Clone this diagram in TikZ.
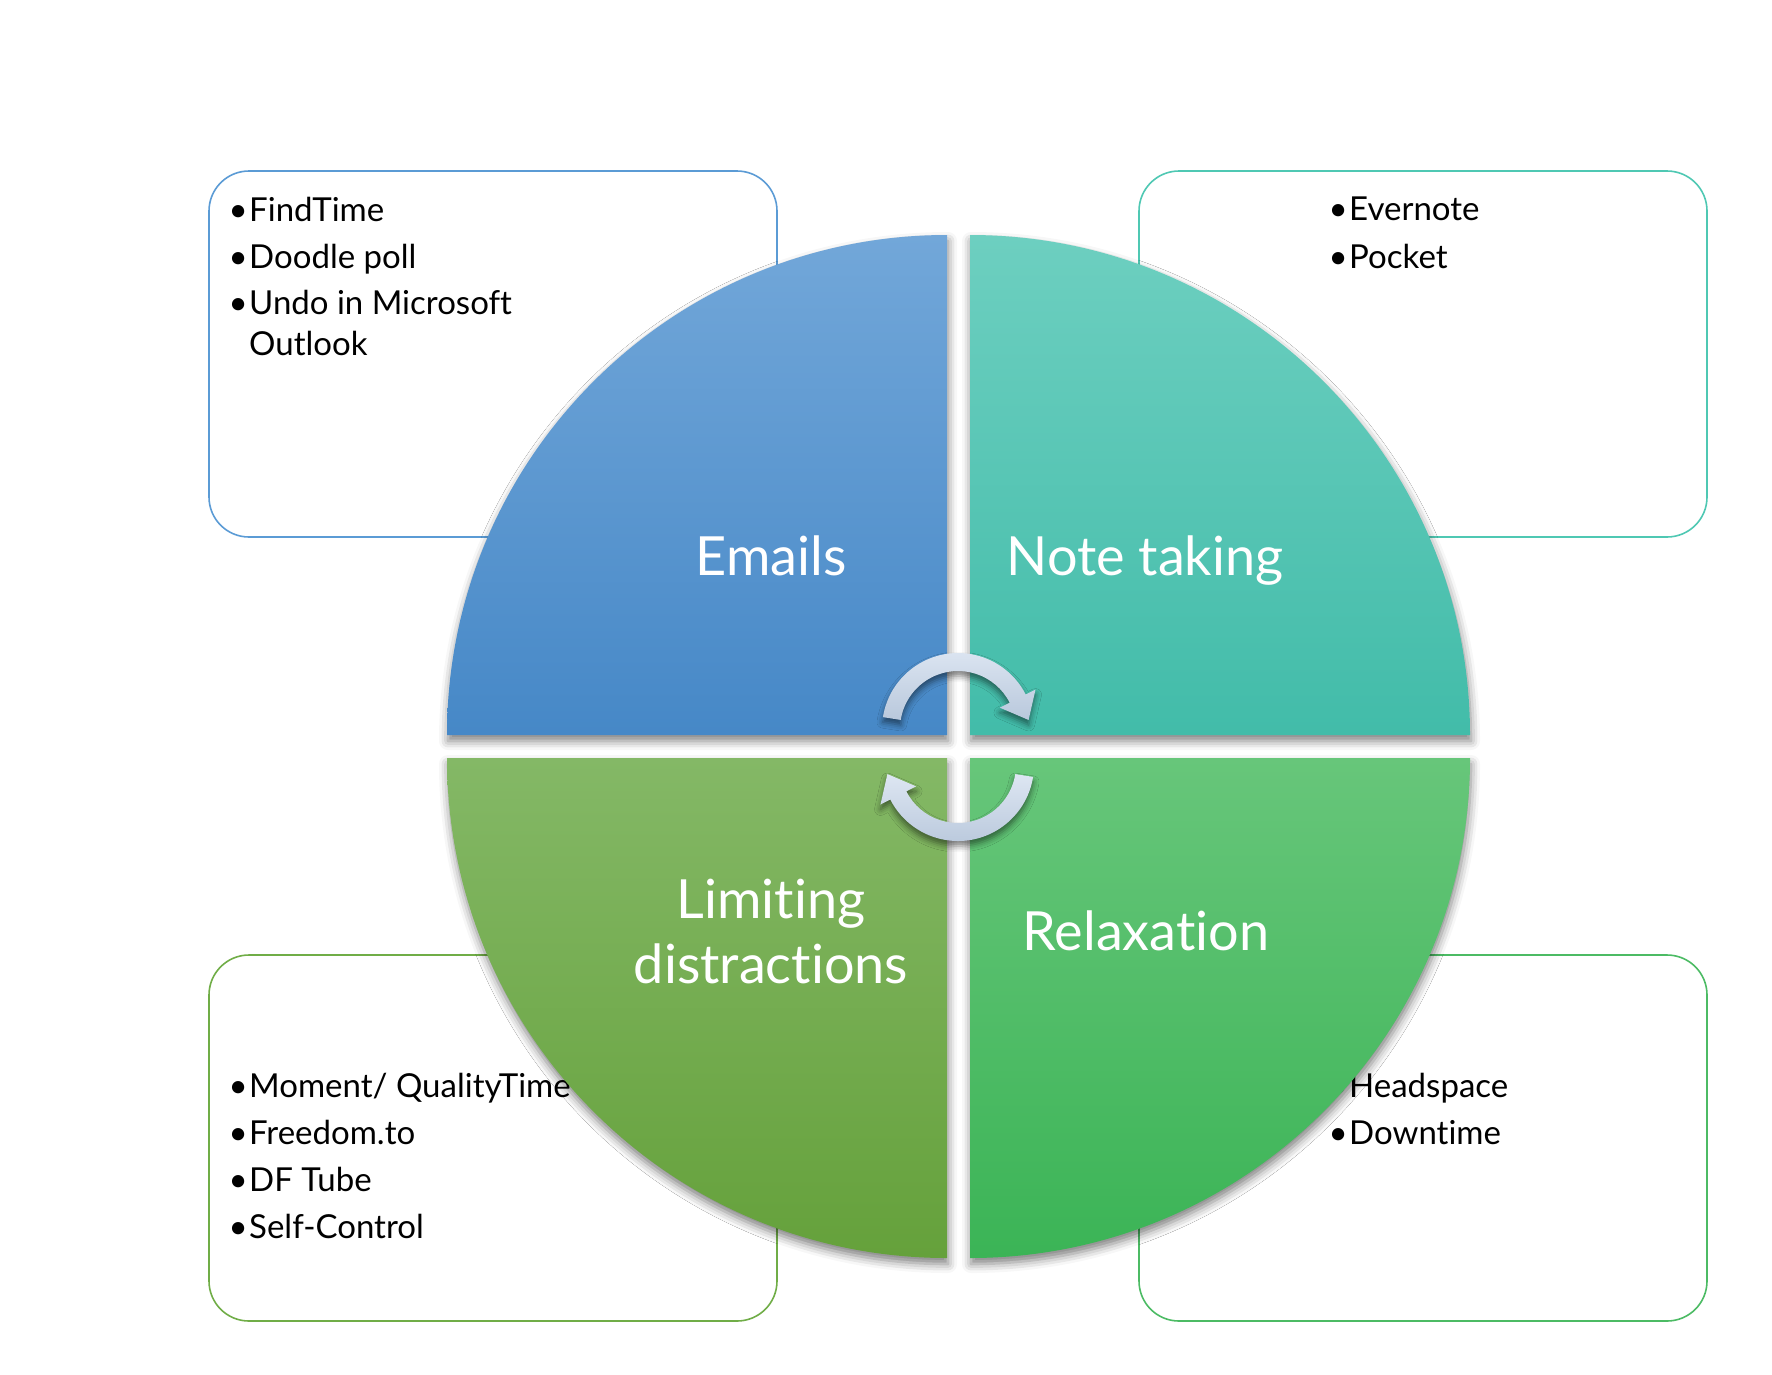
\documentclass[tikz,border=0pt]{standalone}
\usepackage{fontspec}
\setmainfont{Lato}[Ligatures={NoCommon,NoRare,NoContextual}]
\usetikzlibrary{calc,shadows.blur}
\definecolor{qTLtop}{HTML}{72A7D9}
\definecolor{qTLbot}{HTML}{4688C7}
\definecolor{qTRtop}{HTML}{6DCFC0}
\definecolor{qTRbot}{HTML}{42BCA9}
\definecolor{qBLtop}{HTML}{84B866}
\definecolor{qBLbot}{HTML}{65A13B}
\definecolor{qBRtop}{HTML}{67C67A}
\definecolor{qBRbot}{HTML}{3BB456}
\definecolor{bTL}{HTML}{5B9BD5}
\definecolor{bTR}{HTML}{4FC8B3}
\definecolor{bBL}{HTML}{70AD47}
\definecolor{bBR}{HTML}{4CBB64}
\definecolor{arTop}{HTML}{DDE6F2}
\definecolor{arBot}{HTML}{B9C8DC}
\newcommand{\itm}[1]{\makebox[0pt][r]{•\hspace{1.5pt}}#1}
\tikzset{
  infobox/.style={draw=#1, line width=1.6pt, rounded corners=40pt, fill=white,
    minimum width=568pt, minimum height=366pt, inner sep=0pt},
  itemtext/.style={anchor=base west, inner sep=0pt, text=black,
    font=\fontsize{33}{40}\selectfont},
  label/.style={anchor=base, inner sep=0pt, text=white,
    font=\fontsize{54}{65}\selectfont},
  quad/.style={blur shadow={shadow xshift=1pt, shadow yshift=-6pt,
    shadow blur radius=9pt, shadow opacity=50}},
  cyc/.style={top color=arTop, bottom color=arBot,
    blur shadow={shadow xshift=0pt, shadow yshift=-5pt,
    shadow blur radius=6pt, shadow opacity=50}}
}
\begin{document}
\begin{tikzpicture}[x=1pt,y=-1pt]
\useasboundingbox (0,0) rectangle (1772,1374);
% boxes
\node (boxTL) [infobox=bTL] at (493,354) {};
\node (boxTR) [infobox=bTR] at (1423,354) {};
\node (boxBL) [infobox=bBL] at (493,1138) {};
\node (boxBR) [infobox=bBR] at (1423,1138) {};
% box texts
\node (t1) [itemtext] at (249,221) {\itm{FindTime}};
\node (t2) [itemtext] at (249,268) {\itm{Doodle poll}};
\node (t3) [itemtext] at (249,314) {\itm{Undo in Microsoft}};
\node (t3b) [itemtext] at (249,355) {Outlook};
\node (t4) [itemtext] at (1349,220) {\itm{Evernote}};
\node (t5) [itemtext] at (1349,268) {\itm{Pocket}};
\node (t6) [itemtext] at (249,1097) {\itm{Moment/ QualityTime}};
\node (t7) [itemtext] at (249,1144) {\itm{Freedom.to}};
\node (t8) [itemtext] at (249,1191) {\itm{DF Tube}};
\node (t9) [itemtext] at (249,1238) {\itm{Self-Control}};
\node (t10) [itemtext] at (1349,1097) {\itm{Headspace}};
\node (t11) [itemtext] at (1349,1144) {\itm{Downtime}};
% quadrants
\path[quad, top color=qTLtop, bottom color=qTLbot]
  (947,735) -- (447,735) arc[start angle=180, end angle=270, radius=500] -- cycle;
\path[quad, top color=qTRtop, bottom color=qTRbot]
  (970,735) -- (970,235) arc[start angle=270, end angle=360, radius=500] -- cycle;
\path[quad, top color=qBLtop, bottom color=qBLbot]
  (947,758) -- (447,758) arc[start angle=180, end angle=90, radius=500] -- cycle;
\path[quad, top color=qBRtop, bottom color=qBRbot]
  (970,758) -- (1470,758) arc[start angle=0, end angle=90, radius=500] -- cycle;
% labels
\node (lE) [label] at (771,575) {Emails};
\node (lN) [label] at (1145,575) {Note taking};
\node (lL1) [label] at (771,918) {Limiting};
\node (lL2) [label] at (771,983) {distractions};
\node (lR) [label] at (1146,950) {Relaxation};
% cycle arrows
\coordinate (C1) at (958,729);
\coordinate (C2) at (958,765);
\path[cyc]
  ($(C1)+(-171:76)$) arc[start angle=-171, end angle=-27, radius=76]
  -- ($(C1)+(-27:87)$) -- ($(C1)+(-27:67)+(63:24)$) -- ($(C1)+(-27:47)$)
  -- ($(C1)+(-27:58)$) arc[start angle=-27, end angle=-171, radius=58] -- cycle;
\path[cyc]
  ($(C2)+(9:76)$) arc[start angle=9, end angle=153, radius=76]
  -- ($(C2)+(153:87)$) -- ($(C2)+(153:67)+(243:24)$) -- ($(C2)+(153:47)$)
  -- ($(C2)+(153:58)$) arc[start angle=153, end angle=9, radius=58] -- cycle;
\end{tikzpicture}
\end{document}
